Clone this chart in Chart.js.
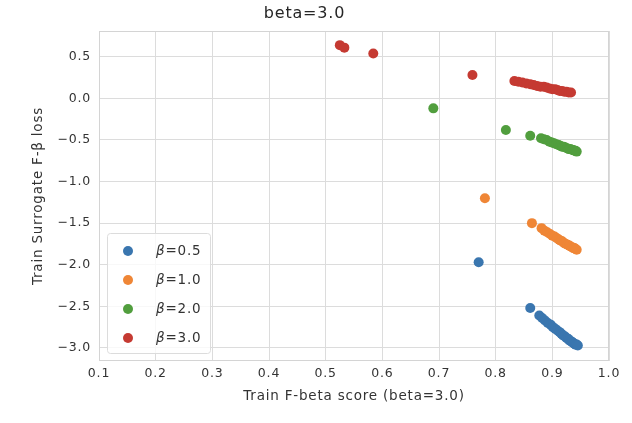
<!DOCTYPE html>
<html>
<head>
<meta charset="utf-8">
<script src="https://cdn.jsdelivr.net/npm/chart.js@4/dist/chart.umd.min.js"></script>
<style>
  html, body { margin: 0; padding: 0; background: #fff; }
  #wrap { width: 632px; height: 423px; }
</style>
</head>
<body>
<div id="wrap"><canvas id="myChart"></canvas></div>
<script>
// series labels and colours
var seriesNames = ['0.5', '1.0', '2.0', '3.0'];
var seriesColors = ['#3a76af', '#ef8636', '#519e3e', '#c53a32'];

// x = Train F-beta score, y = Train Surrogate F-beta loss
var beta05x = [0.770, 0.861, 0.877, 0.882, 0.887, 0.892, 0.897, 0.901, 0.905, 0.909, 0.913, 0.916, 0.919, 0.922, 0.925, 0.928, 0.930, 0.933, 0.935, 0.937, 0.939, 0.941, 0.943, 0.945];
var beta05y = [-1.97, -2.52, -2.61, -2.64, -2.67, -2.70, -2.72, -2.75, -2.77, -2.79, -2.81, -2.83, -2.85, -2.86, -2.88, -2.89, -2.91, -2.92, -2.93, -2.94, -2.95, -2.96, -2.96, -2.97];

var beta10x = [0.781, 0.864, 0.881, 0.886, 0.891, 0.896, 0.900, 0.904, 0.908, 0.912, 0.915, 0.918, 0.921, 0.924, 0.927, 0.930, 0.932, 0.935, 0.937, 0.939, 0.941, 0.943];
var beta10y = [-1.20, -1.50, -1.56, -1.59, -1.61, -1.63, -1.65, -1.66, -1.68, -1.70, -1.71, -1.72, -1.74, -1.75, -1.76, -1.77, -1.78, -1.79, -1.80, -1.80, -1.81, -1.82];

var beta20x = [0.690, 0.818, 0.861, 0.880, 0.885, 0.890, 0.895, 0.899, 0.903, 0.907, 0.911, 0.914, 0.917, 0.920, 0.923, 0.926, 0.929, 0.932, 0.935, 0.937, 0.939, 0.941, 0.943];
var beta20y = [-0.12, -0.38, -0.45, -0.48, -0.49, -0.50, -0.52, -0.53, -0.54, -0.55, -0.56, -0.57, -0.58, -0.58, -0.59, -0.60, -0.61, -0.61, -0.62, -0.62, -0.63, -0.63, -0.64];

var beta30x = [0.525, 0.533, 0.584, 0.759, 0.833, 0.840, 0.847, 0.854, 0.861, 0.867, 0.873, 0.879, 0.885, 0.890, 0.895, 0.900, 0.905, 0.909, 0.913, 0.917, 0.921, 0.925, 0.929, 0.933];
var beta30y = [0.64, 0.61, 0.54, 0.28, 0.21, 0.20, 0.19, 0.18, 0.17, 0.16, 0.15, 0.14, 0.14, 0.13, 0.12, 0.11, 0.11, 0.10, 0.09, 0.09, 0.08, 0.08, 0.07, 0.07];

var xs = [beta05x, beta10x, beta20x, beta30x];
var ys = [beta05y, beta10y, beta20y, beta30y];

const toPoints = (a, b) => a.map((v, i) => ({ x: v, y: b[i] }));
const fmt = (v) => {
    let s = Number(v).toFixed(1);
    return s.replace('-', '\u2212');
};

var datasets = [];
for (let i = 0; i < seriesNames.length; i++) {
    datasets.push({
        label: '\u03b2=' + seriesNames[i],
        data: toPoints(xs[i], ys[i]),
        backgroundColor: seriesColors[i],
        borderWidth: 0,
        pointRadius: 5,
        pointHoverRadius: 5
    });
}

// matplotlib text looks a bit wider spaced at this size
const spacing = (chart) => { chart.ctx.letterSpacing = '0.8px'; };

// plot frame (all four sides) + legend box in lower-left
const framePlugin = {
    id: 'frame',
    beforeUpdate: spacing,
    beforeDraw: spacing,
    beforeDatasetsDraw(chart) {
        const a = chart.chartArea, c = chart.ctx;
        c.save();
        c.strokeStyle = '#d4d4d4';
        c.lineWidth = 1;
        c.strokeRect(a.left + 0.5, a.top + 0.5, a.right - a.left - 1, a.bottom - a.top - 1);
        c.restore();
    },
    afterDraw(chart) {
        const a = chart.chartArea, c = chart.ctx;
        const bx = a.left + 8, bw = 103, bh = 120;
        const by = a.bottom - 8 - bh;
        c.save();
        c.fillStyle = 'rgba(255,255,255,0.8)';
        c.strokeStyle = '#dcdcdc';
        c.lineWidth = 1;
        c.beginPath();
        c.roundRect(bx + 0.5, by + 0.5, bw, bh, 3);
        c.fill();
        c.stroke();
        for (let i = 0; i < seriesNames.length; i++) {
            const cy = by + 18 + i * 29;
            c.fillStyle = seriesColors[i];
            c.beginPath();
            c.arc(bx + 21, cy, 5, 0, Math.PI * 2);
            c.fill();
            c.fillStyle = '#333';
            c.textBaseline = 'middle';
            c.font = 'italic 13.5px "DejaVu Sans"';
            c.fillText('\u03b2', bx + 49, cy);
            const w = c.measureText('\u03b2').width;
            c.font = '13.5px "DejaVu Sans"';
            c.fillText('=' + seriesNames[i], bx + 49 + w, cy);
        }
        c.restore();
    }
};

const config = {
    type: 'scatter',
    data: { datasets: datasets },
    options: {
        responsive: true,
        maintainAspectRatio: false,
        animation: false,
        layout: { padding: { left: 0, right: 23, top: 0, bottom: 0 } },
        plugins: {
            legend: { display: false },
            tooltip: { enabled: false },
            title: {
                display: true,
                text: 'beta=3.0',
                color: '#262626',
                font: { family: 'DejaVu Sans', size: 16, weight: 'normal' },
                padding: { top: 4, bottom: 7.8 }
            }
        },
        scales: {
            x: {
                type: 'linear',
                min: 0.1,
                max: 1.0,
                afterFit: (s) => { s.height = 62; },
                grid: { color: '#dcdcdc', drawTicks: false },
                border: { display: false },
                ticks: {
                    stepSize: 0.1,
                    padding: 5,
                    color: '#333',
                    font: { family: 'DejaVu Sans', size: 12.5 },
                    callback: (v) => fmt(v)
                },
                title: {
                    display: true,
                    text: 'Train F-beta score (beta=3.0)',
                    color: '#333',
                    font: { family: 'DejaVu Sans', size: 13.5 },
                    padding: { top: 4, bottom: 18 }
                }
            },
            y: {
                type: 'linear',
                min: -3.157,
                max: 0.81,
                afterFit: (s) => { s.width = 99; },
                grid: { color: '#dcdcdc', drawTicks: false },
                border: { display: false },
                ticks: {
                    stepSize: 0.5,
                    includeBounds: false,
                    padding: 8,
                    color: '#333',
                    font: { family: 'DejaVu Sans', size: 12.5 },
                    callback: (v) => fmt(v)
                },
                title: {
                    display: true,
                    text: 'Train Surrogate F-\u03b2 loss',
                    color: '#333',
                    font: { family: 'DejaVu Sans', size: 13.5 },
                    padding: { top: 30, bottom: 0 }
                }
            }
        }
    },
    plugins: [framePlugin]
};

const myChart = new Chart(document.getElementById('myChart'), config);
</script>
</body>
</html>
